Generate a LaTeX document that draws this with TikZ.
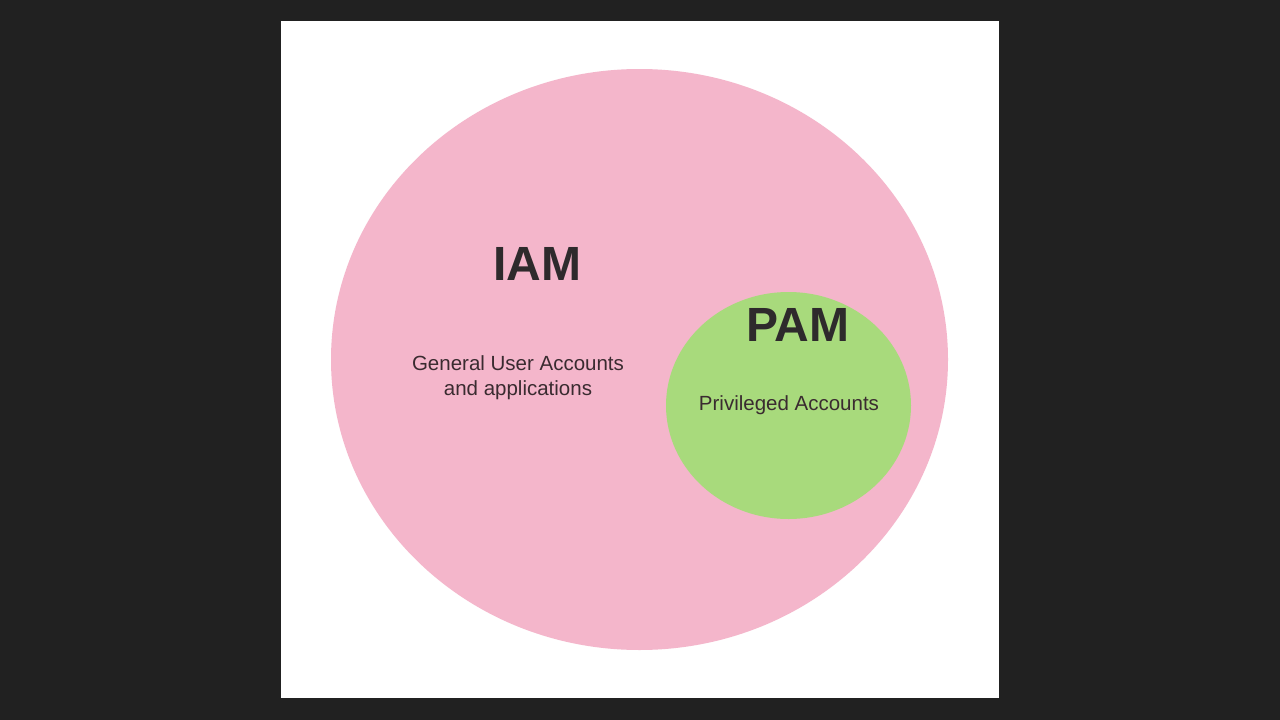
\documentclass[tikz,border=0pt]{standalone}
\usepackage{fontspec}
\setmainfont{Liberation Sans}
\definecolor{bgdark}{HTML}{212121}
\definecolor{pinkfill}{HTML}{F4B6CB}
\definecolor{greenfill}{HTML}{A8DA7C}
\definecolor{titletext}{HTML}{2E2A2C}
\definecolor{bodytext}{HTML}{3A2B30}
\tikzset{
  title/.style={font=\fontsize{48}{54}\selectfont\bfseries, text=titletext, inner sep=0pt},
  body/.style={font=\fontsize{20.5}{25}\selectfont, text=bodytext, align=center, inner sep=0pt},
}
\begin{document}
\begin{tikzpicture}[x=1pt,y=-1pt]
\fill[bgdark] (0,0) rectangle (1280,720);
\useasboundingbox (0,0) rectangle (1280,720);
\fill[white] (281,21) rectangle (999,698);
\fill[pinkfill] (639.5,359.5) ellipse [x radius=308.5, y radius=290.5];
\fill[greenfill] (788.5,405.5) ellipse [x radius=122.5, y radius=113.5];
\node[title] (iam) at (537,264) {IAM};
\node[title] (pam) at (798,325) {PAM};
\node[body] (gen) at (518,377.5) {General User Accounts\\and applications};
\node[body] (priv) at (789,405) {Privileged Accounts};
\end{tikzpicture}
\end{document}
